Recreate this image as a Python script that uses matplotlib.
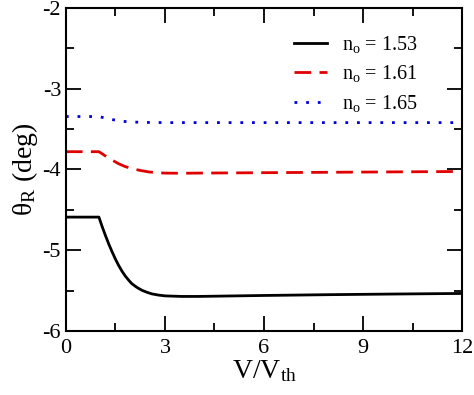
import matplotlib
matplotlib.use("Agg")
import matplotlib.pyplot as plt
from matplotlib.ticker import MultipleLocator

plt.rcParams['font.family'] = ['Liberation Serif', 'DejaVu Serif']
plt.rcParams['mathtext.fontset'] = 'custom'
plt.rcParams['mathtext.rm'] = 'Liberation Serif'
plt.rcParams['mathtext.it'] = 'Liberation Serif:italic'
plt.rcParams['axes.unicode_minus'] = False

x_153 = [0, 1, 1.1, 1.2, 1.3, 1.4, 1.5, 1.6, 1.7, 1.8, 1.9, 2.0, 2.15, 2.3, 2.45,
         2.6, 2.8, 3.0, 3.5, 4, 5, 6, 8, 10, 12]
y_153 = [-4.59, -4.59, -4.71, -4.82, -4.925, -5.02, -5.11, -5.19, -5.26, -5.32,
         -5.37, -5.415, -5.46, -5.495, -5.52, -5.54, -5.555, -5.565,
         -5.572, -5.572, -5.566, -5.56, -5.55, -5.542, -5.535]
x_161 = [0, 1, 1.15, 1.3, 1.45, 1.6, 1.8, 2.0, 2.25, 2.5, 2.75, 3, 3.5, 4, 6, 8, 10, 12]
y_161 = [-3.78, -3.78, -3.82, -3.86, -3.895, -3.93, -3.965, -3.99, -4.012, -4.03,
         -4.04, -4.045, -4.047, -4.045, -4.04, -4.035, -4.03, -4.025]
x_165 = [0, 1, 1.25, 1.5, 1.75, 2, 2.5, 3, 6, 9, 12]
y_165 = [-3.345, -3.345, -3.37, -3.39, -3.405, -3.413, -3.418, -3.42, -3.42, -3.42, -3.42]
labels = ['n$_\\mathrm{o}$ = 1.53', 'n$_\\mathrm{o}$ = 1.61', 'n$_\\mathrm{o}$ = 1.65']

fig = plt.figure(figsize=(4.74, 3.95), dpi=100)
ax = fig.add_axes([0.139, 0.162, 0.836, 0.818])

ax.plot(x_153, y_153, color='black', lw=2.0, label=labels[0])
ax.plot(x_161, y_161, color='#e00000', lw=2.0, dashes=(6, 3), label=labels[1])
ax.plot(x_165, y_165, color='#0000dd', lw=2.0, dashes=(1, 3.2), label=labels[2])

ax.set_xlim(0, 12)
ax.set_ylim(-6, -2)
ax.xaxis.set_major_locator(MultipleLocator(3))
ax.xaxis.set_minor_locator(MultipleLocator(1.5))
ax.yaxis.set_major_locator(MultipleLocator(1))
ax.yaxis.set_minor_locator(MultipleLocator(0.5))
ax.tick_params(which='both', direction='in', top=True, right=True, width=1.3,
               labelsize=16)
ax.tick_params(which='major', length=11)
ax.tick_params(which='minor', length=5.5)
ax.tick_params(axis='x', pad=6)
for s in ax.spines.values():
    s.set_linewidth(1.5)

ax.set_xlabel('V/V$_\\mathrm{th}$', fontsize=20, labelpad=0)
ax.set_ylabel('θ$_\\mathrm{R}$ (deg)', fontsize=20, labelpad=2)

leg = ax.legend(loc='upper left', frameon=False, fontsize=14.5,
                handlelength=1.65, handletextpad=0.75, labelspacing=0.42,
                borderpad=0, borderaxespad=0,
                bbox_to_anchor=(0.575, 0.92))

fig.savefig('out.png', dpi=100)
